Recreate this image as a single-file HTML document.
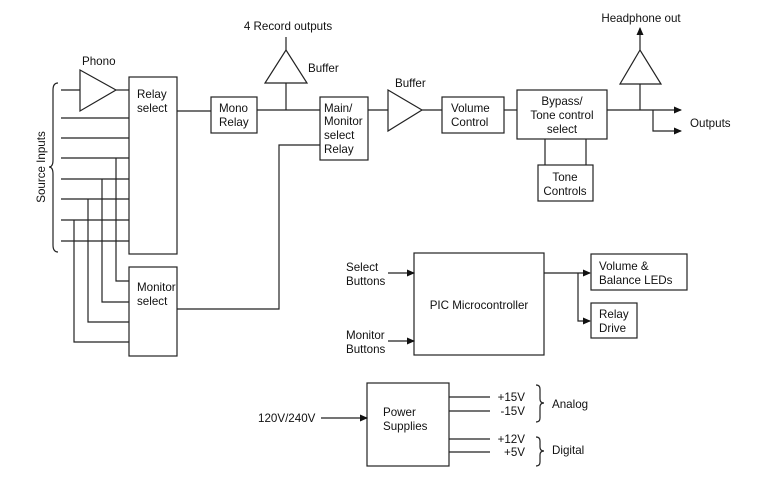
<!DOCTYPE html>
<html><head><meta charset="utf-8"><style>
html,body{margin:0;padding:0;background:#fff}
svg{display:block}
text{font-family:"Liberation Sans",Arial,sans-serif;font-size:11.6px;fill:#111}
</style></head><body>
<svg width="765" height="477" viewBox="0 0 765 477" xmlns="http://www.w3.org/2000/svg">
<defs><marker id="a" markerWidth="8" markerHeight="8" refX="7" refY="4" orient="auto" markerUnits="userSpaceOnUse"><path d="M0,0.5 L8,4 L0,7.5z" fill="#111"/></marker></defs>
<g stroke="#222" stroke-width="1.2" fill="none">
<path d="M58,83 Q53,83 53,90 L53,160 Q53,167 49,167 Q53,167 53,174 L53,245 Q53,252 58,252"/>
<line x1="61" y1="90" x2="80" y2="90"/>
<polygon points="80,70 116,90 80,111" fill="#fff"/>
<line x1="116" y1="90" x2="129" y2="90"/>
<line x1="61" y1="118" x2="129" y2="118"/>
<line x1="61" y1="138" x2="129" y2="138"/>
<line x1="61" y1="158" x2="129" y2="158"/>
<line x1="61" y1="179" x2="129" y2="179"/>
<line x1="61" y1="199" x2="129" y2="199"/>
<line x1="61" y1="220" x2="129" y2="220"/>
<line x1="61" y1="241" x2="129" y2="241"/>
<polyline points="116,158 116,281 129,281"/>
<polyline points="102,179 102,302 129,302"/>
<polyline points="88,199 88,322 129,322"/>
<polyline points="74,220 74,342 129,342"/>
<rect x="129" y="77" width="48" height="177" fill="#fff"/>
<rect x="129" y="267" width="48" height="89" fill="#fff"/>
<line x1="177" y1="111" x2="211" y2="111"/>
<rect x="211" y="97" width="46" height="36"/>
<line x1="257" y1="110" x2="320" y2="110"/>
<line x1="286" y1="110" x2="286" y2="83"/>
<polygon points="265,83 307,83 286,50"/>
<line x1="286" y1="50" x2="286" y2="37"/>
<rect x="320" y="97" width="48" height="63"/>
<polyline points="177,309 279,309 279,145 320,145"/>
<line x1="368" y1="110" x2="388" y2="110"/>
<polygon points="388,90 422,110 388,131"/>
<line x1="422" y1="110" x2="442" y2="110"/>
<rect x="442" y="97" width="62" height="36"/>
<line x1="504" y1="110" x2="517" y2="110"/>
<rect x="517" y="90" width="90" height="49"/>
<line x1="545" y1="139" x2="545" y2="165"/>
<line x1="586" y1="139" x2="586" y2="165"/>
<rect x="538" y="165" width="55" height="36"/>
<line x1="607" y1="110" x2="681" y2="110" marker-end="url(#a)"/>
<polyline points="653,110 653,131 681,131" marker-end="url(#a)"/>
<line x1="640" y1="110" x2="640" y2="84"/>
<polygon points="620,84 661,84 640,50"/>
<line x1="640" y1="50" x2="640" y2="28" marker-end="url(#a)"/>
<rect x="414" y="253" width="130" height="102"/>
<line x1="388" y1="273" x2="414" y2="273" marker-end="url(#a)"/>
<line x1="388" y1="341" x2="414" y2="341" marker-end="url(#a)"/>
<line x1="544" y1="273" x2="590" y2="273" marker-end="url(#a)"/>
<polyline points="578,273 578,321 590,321" marker-end="url(#a)"/>
<rect x="591" y="254" width="96" height="36"/>
<rect x="591" y="303" width="46" height="35"/>
<rect x="367" y="383" width="82" height="83"/>
<line x1="321" y1="418" x2="367" y2="418" marker-end="url(#a)"/>
<line x1="449" y1="397" x2="490" y2="397"/>
<line x1="449" y1="411" x2="490" y2="411"/>
<line x1="449" y1="439" x2="490" y2="439"/>
<line x1="449" y1="452" x2="490" y2="452"/>
<path d="M536,385 Q540,385 540,389 L540,399 Q540,403 544,403 Q540,403 540,407 L540,418 Q540,422 536,422"/>
<path d="M536,437 Q540,437 540,441 L540,447 Q540,451 544,451 Q540,451 540,455 L540,462 Q540,466 536,466"/>
</g>
<text x="41" y="167" text-anchor="middle" transform="rotate(-90 41 167)" dy="4">Source Inputs</text>
<text x="82" y="65">Phono</text>
<text x="137" y="98">Relay</text><text x="137" y="112">select</text>
<text x="137" y="291">Monitor</text><text x="137" y="305">select</text>
<text x="219" y="112">Mono</text><text x="219" y="126">Relay</text>
<text x="288" y="30" text-anchor="middle">4 Record outputs</text>
<text x="308" y="72">Buffer</text>
<text x="395" y="87">Buffer</text>
<text x="324" y="112">Main/</text><text x="324" y="125">Monitor</text><text x="324" y="139">select</text><text x="324" y="153">Relay</text>
<text x="451" y="112">Volume</text><text x="451" y="126">Control</text>
<text x="562" y="105" text-anchor="middle">Bypass/</text><text x="562" y="119" text-anchor="middle">Tone control</text><text x="562" y="133" text-anchor="middle">select</text>
<text x="565" y="181" text-anchor="middle">Tone</text><text x="565" y="195" text-anchor="middle">Controls</text>
<text x="641" y="22" text-anchor="middle">Headphone out</text>
<text x="690" y="127">Outputs</text>
<text x="346" y="271">Select</text><text x="346" y="285">Buttons</text>
<text x="346" y="339">Monitor</text><text x="346" y="353">Buttons</text>
<text x="479" y="309" text-anchor="middle">PIC Microcontroller</text>
<text x="599" y="270">Volume &amp;</text><text x="599" y="284">Balance LEDs</text>
<text x="599" y="318">Relay</text><text x="599" y="332">Drive</text>
<text x="258" y="422">120V/240V</text>
<text x="383" y="416">Power</text><text x="383" y="430">Supplies</text>
<text x="525" y="401" text-anchor="end">+15V</text>
<text x="525" y="415" text-anchor="end">-15V</text>
<text x="525" y="443" text-anchor="end">+12V</text>
<text x="525" y="456" text-anchor="end">+5V</text>
<text x="552" y="408">Analog</text>
<text x="552" y="454">Digital</text>
</svg>
</body></html>
